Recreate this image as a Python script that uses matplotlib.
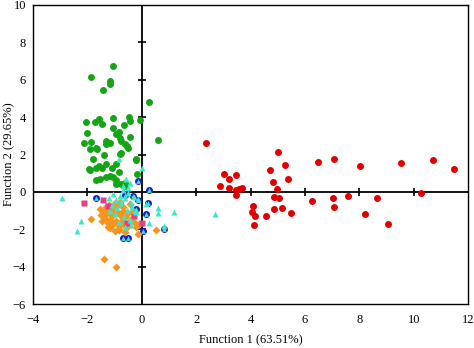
import matplotlib
matplotlib.use('Agg')
import matplotlib.pyplot as plt

plt.rcParams['font.family'] = ['Liberation Serif', 'DejaVu Serif']

# grupo vermelho
red_x = [2.38, 5.01, 3.03, 3.48, 3.20, 2.89, 3.20, 3.46, 3.58, 3.69, 3.48, 4.72, 5.27, 4.83,
         5.38, 4.96, 4.85, 5.05, 4.09, 4.07, 4.15, 4.12, 4.57, 4.86, 5.17, 5.47, 6.48, 7.07,
         8.01, 9.52, 10.71, 11.48, 6.25, 7.03, 7.60, 8.64, 10.28, 7.06, 8.20, 9.07]
red_y = [2.64, 2.16, 0.98, 0.91, 0.68, 0.32, 0.20, 0.09, 0.16, 0.21, -0.16, 1.18, 1.43, 0.52,
         0.70, 0.18, -0.25, -0.34, -0.75, -1.07, -1.28, -1.75, -1.30, -0.89, -0.84, -1.12, 1.60, 1.76,
         1.41, 1.55, 1.71, 1.23, -0.50, -0.32, -0.23, -0.30, -0.04, -0.80, -1.18, -1.73]

# grupo verde
green_x = [-1.05, -1.88, -1.18, -1.15, -1.41, 0.26, -0.05, 0.58, -2.05, -1.73, -1.57, -1.48,
           -1.05, -0.47, -0.42, -0.65, -1.05, -2.03, -2.13, -1.85, -1.33, -1.18, -0.93, -0.81,
           -0.75, -0.44, -0.56, -0.83, -1.67, -1.91, -1.64, -1.30, -1.79, -1.57, -1.48, -1.69,
           -1.91, -1.30, -1.08, -0.81, -0.75, -0.63, -0.50, -0.22, -1.30, -1.18, -1.05, -0.83,
           -1.69, -1.54, -0.93, -0.75, -0.63, -0.96, -0.19, -0.23, -0.93, -1.94, -0.60, -1.40]
green_y = [6.72, 6.17, 5.94, 5.76, 5.45, 4.83, 3.87, 2.80, 3.74, 3.74, 3.89, 3.65,
           3.94, 4.01, 3.80, 3.58, 3.44, 3.14, 2.62, 2.69, 2.71, 2.62, 3.09, 2.90,
           2.73, 2.94, 2.46, 3.22, 2.34, 2.28, 2.28, 2.55, 1.75, 1.39, 1.30, 1.27,
           1.16, 1.51, 1.30, 2.02, 2.10, 2.58, 2.37, 1.71, 0.80, 0.86, 0.80, 1.09,
           0.63, 0.68, 0.44, 0.41, 0.50, 0.63, 0.95, 1.75, 1.48, 1.21, 0.30, 1.95]

# grupo laranja
orange_x = [-1.85, -1.54, -1.40, -1.30, -1.20, -1.10, -1.00, -0.90, -0.80, -0.70, -0.60, -0.50,
            -0.40, -1.45, -1.35, -1.25, -1.15, -1.05, -0.95, -0.85, -0.75, -0.65, -0.55, -1.30,
            -1.20, -1.10, -1.00, -0.90, -0.80, -0.70, -1.15, -1.00, -0.85, -0.60, -0.83, -0.14,
            0.51, -1.40, -0.96, -0.30, -0.20, -1.50, -0.45, -1.05, -0.70, -1.25, -0.35, -0.10]
orange_y = [-1.43, -0.89, -1.00, -1.20, -1.05, -1.30, -0.95, -1.10, -1.25, -1.00, -1.35, -1.15,
            -1.45, -1.55, -1.40, -1.65, -1.50, -1.70, -1.55, -1.80, -1.60, -1.75, -1.90, -0.80,
            -0.70, -0.85, -0.60, -0.75, -0.55, -0.80, -1.95, -2.10, -2.00, -2.15, -2.05, -2.26,
            -2.05, -3.60, -4.01, -1.60, -1.85, -1.25, -0.65, -1.15, -1.50, -1.85, -1.05, -1.70]

# grupo rosa
pink_x = [-2.12, -1.42, -1.26, -0.56, -0.01, -0.30]
pink_y = [-0.60, -0.45, -0.75, -1.64, -1.64, -1.30]

# grupo azul
blue_x = [-0.14, 0.26, -1.69, 0.23, -0.14, 0.17, 0.05, -0.69, -0.50, 0.82, -0.81, -0.32, -0.63, -0.20]
blue_y = [0.59, 0.09, -0.30, -0.57, -0.44, -1.19, -2.09, -2.44, -2.44, -1.99, -0.66, -0.21, -0.16, -0.90]

# grupo turquesa
cyan_x = [-2.92, -2.22, -2.40, 0.60, 0.60, 1.20, 2.68, 0.26, 0.82, -0.01, -0.85, -0.59, -0.44,
          -1.20, -1.05, -0.95, -0.80, -0.70, -0.60, -0.50, -0.40, -0.30, -1.10, -0.90, -0.75,
          -0.55, -0.35, -0.20, -1.00, -0.65, -0.45, -0.25, -0.85, -0.15, -0.70, -0.50, -0.40,
          0.15, -1.15, -0.60]
cyan_y = [-0.30, -1.55, -2.09, -0.84, -1.11, -1.05, -1.19, -1.64, -1.82, 1.30, 1.76, 0.71, 0.50,
          -0.30, -0.10, -0.45, -0.20, 0.10, -0.35, -0.05, -0.60, -0.25, -0.70, -0.85, -0.55,
          -0.95, -0.80, -1.10, -1.20, -1.35, -1.50, -1.00, -1.60, -0.40, 0.30, 0.20, -1.75,
          -0.65, -1.00, -1.90]

x_ticks = [-4, -2, 0, 2, 4, 6, 8, 10, 12]
y_ticks = [-6, -4, -2, 0, 2, 4, 6, 8, 10]

fig = plt.figure(figsize=(4.74, 3.48), dpi=100)
ax = fig.add_axes([0.0696, 0.126, 0.918, 0.860])

ax.axhline(0, color='black', lw=1.3, zorder=1)
ax.axvline(0, color='black', lw=1.3, zorder=1)
# tracinhos nos eixos centrais
xt = [t for t in x_ticks if t not in (-4, 0, 12)]
yt = [t for t in y_ticks if t not in (-6, 0, 10)]
ax.plot(xt, [0] * len(xt), marker='|', ls='none', ms=6, mew=1.2, color='black', zorder=1)
ax.plot([0] * len(yt), yt, marker='_', ls='none', ms=6, mew=1.2, color='black', zorder=1)

ax.plot(green_x, green_y, 'o', ms=5, color='#14a514', mec='none', zorder=3)
ax.plot(red_x, red_y, 'o', ms=5, color='#e00000', mec='none', zorder=3)
ax.plot(blue_x, blue_y, 'o', ms=5, color='#1a1acc', mec='none', zorder=3)
ax.plot(orange_x, orange_y, 'D', ms=3.8, color='#f7941d', mec='none', zorder=4)
ax.plot(pink_x, pink_y, 's', ms=3.8, color='#e0408a', mec='none', zorder=4)
ax.plot(cyan_x, cyan_y, '^', ms=4.8, color='#3de8c8', mec='none', zorder=5)
ax.plot(blue_x, blue_y, '^', ms=3.4, color='#3de8c8', mec='none', zorder=5)

ax.set_xlim(-4, 12)
ax.set_ylim(-6, 10)
ax.set_xticks(x_ticks)
ax.set_yticks(y_ticks)
ax.tick_params(length=0, labelsize=9)
ax.tick_params(axis='x', pad=7)
ax.tick_params(axis='y', pad=5)
for s in ax.spines.values():
    s.set_linewidth(1.0)

ax.set_xlabel('Function 1 (63.51%)', fontsize=9, labelpad=6)
ax.set_ylabel('Function 2 (29.65%)', fontsize=9)
ax.yaxis.set_label_coords(-0.04, 0.5)

fig.savefig('out.png', dpi=100)
